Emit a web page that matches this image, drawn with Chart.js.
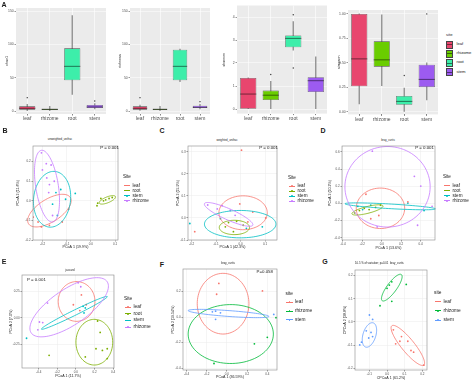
<!DOCTYPE html>
<html>
<head>
<meta charset="utf-8">
<script src="https://cdn.jsdelivr.net/npm/chart.js@4.4.1/dist/chart.umd.min.js"></script>
<style>
  body { margin: 0; background: #fff; }
  #page { position: relative; width: 474px; height: 382px; overflow: hidden; font-family: "Liberation Sans", Arial, sans-serif; color: #1a1a1a; }
  #page canvas { position: absolute; }
  .lbl { position: absolute; white-space: nowrap; line-height: 1; }
  .mid { transform: translate(-50%, -50%); }
  .lft { transform: translate(0, -50%); }
  .rgt { transform: translate(-100%, -50%); }
  .letter { font-weight: bold; font-size: 7px; }
  .ttl { font-size: 2.8px; }
  .pval { font-size: 4.4px; }
  .sw { position: absolute; }
</style>
</head>
<body>
<div id="page">
  <canvas id="chao" width="102" height="122" style="left:5px;top:0px"></canvas>
  <canvas id="richness" width="93" height="122" style="left:118px;top:0px"></canvas>
  <canvas id="shannon" width="106" height="122" style="left:222px;top:0px"></canvas>
  <canvas id="simpson" width="102" height="122" style="left:337px;top:0px"></canvas>
  <canvas id="pcoaB" width="106" height="107" style="left:16px;top:142px"></canvas>
  <canvas id="pcoaC" width="105" height="107" style="left:176px;top:142px"></canvas>
  <canvas id="pcoaD" width="111" height="108" style="left:328px;top:142px"></canvas>
  <canvas id="pcoaE" width="109" height="107" style="left:9px;top:271px"></canvas>
  <canvas id="pcoaF" width="110" height="114" style="left:171px;top:265px"></canvas>
  <canvas id="pcoaG" width="88" height="114" style="left:343px;top:266px"></canvas>

  <div class="lbl letter mid" style="left:4px;top:4px">A</div>
  <div class="lbl letter mid" style="left:5px;top:130px">B</div>
  <div class="lbl letter mid" style="left:162px;top:130px">C</div>
  <div class="lbl letter mid" style="left:323px;top:130px">D</div>
  <div class="lbl letter mid" style="left:4px;top:261px">E</div>
  <div class="lbl letter mid" style="left:162px;top:264px">F</div>
  <div class="lbl letter mid" style="left:325px;top:261px">G</div>

  <div class="lbl ttl mid" style="left:60px;top:139px">unweighted_unifrac</div>
  <div class="lbl ttl mid" style="left:227px;top:140px">weighted_unifrac</div>
  <div class="lbl ttl mid" style="left:388px;top:140px">bray_curtis</div>
  <div class="lbl ttl mid" style="left:70px;top:270px">jaccard</div>
  <div class="lbl ttl mid" style="left:228px;top:263px">bray_curtis</div>
  <div class="lbl ttl lft" style="left:355px;top:263px">10.5 % of variation; p=0.01</div>
  <div class="lbl ttl lft" style="left:390px;top:263px">bray_curtis</div>

  <div class="lbl pval rgt" style="left:119px;top:148px">P = 0.001</div>
  <div class="lbl pval rgt" style="left:278px;top:148px">P = 0.001</div>
  <div class="lbl pval rgt" style="left:434px;top:148px">P = 0.001</div>
  <div class="lbl pval lft" style="left:27px;top:280px">P = 0.001</div>
  <div class="lbl pval rgt" style="left:273px;top:272px">P=0.058</div>
</div>
<script>
// ---- panel A: alpha diversity boxplots ----
const sites = ["leaf", "rhizome", "root", "stem"];

const chaoLow = [0.5, 0, 25, 3];
const chaoQ1 = [2, 1.5, 46, 4.5];
const chaoMedian = [4, 2.5, 67, 6];
const chaoQ3 = [7, 3.5, 94, 9];
const chaoHigh = [10, 7, 143, 11];
const chaoOutliers = [[20], [], [], [15]];

const richLow = [1, 0.5, 44, 3];
const richQ1 = [2, 1.5, 46, 4.5];
const richMedian = [4, 2.5, 67, 5.5];
const richQ3 = [7, 3.5, 92, 8];
const richHigh = [9, 7, 93, 10];
const richOutliers = [[20], [], [], [14]];

const shannonLow = [0, 0, 2.56, 0];
const shannonQ1 = [0, 0.39, 2.68, 0.74];
const shannonMedian = [0.65, 0.6, 3.07, 1.23];
const shannonQ3 = [1.35, 0.8, 3.2, 1.38];
const shannonHigh = [1.35, 1.2, 3.8, 2.27];
const shannonOutliers = [[], [1.5], [4.1, 1.78], []];

const simpsonLow = [0.08, 0.265, 0, 0.12];
const simpsonQ1 = [0.26, 0.46, 0.07, 0.25];
const simpsonMedian = [0.54, 0.53, 0.105, 0.33];
const simpsonQ3 = [1, 0.72, 0.16, 0.48];
const simpsonHigh = [1, 0.99, 0.24, 0.5];
const simpsonOutliers = [[], [], [0.37], [1]];

const chaoTicks = [0, 50, 100, 150];
const shannonTicks = [0, 1, 2, 3, 4];
const simpsonTicks = [0, 0.25, 0.5, 0.75, 1];

// ---- panels B-G: PCoA points [x, y] and ellipses [cx, cy, ax, ay, bx, by] ----
const groups4 = ["leaf", "root", "stem", "rhizome"];
const groups3 = ["leaf", "rhizome", "stem"];

const bLeaf = [[-0.239, -0.083], [-0.219, -0.108], [-0.205, -0.133], [-0.172, -0.125], [-0.119, -0.108], [-0.092, -0.042]];
const bRoot = [[0.028, -0.012], [0.041, 0.012], [0.052, 0], [0.061, 0.005], [0.075, 0.012], [0.088, 0.017], [0.025, -0.025]];
const bStem = [[-0.145, 0.042], [-0.125, 0.058], [-0.105, 0.008], [-0.065, 0.038], [-0.159, -0.017], [-0.139, -0.075]];
const bRhizome = [[-0.205, 0.245], [-0.185, 0.19], [-0.201, 0.158], [-0.165, 0.183], [-0.183, 0.117], [-0.172, 0.083], [-0.152, 0.1], [-0.175, 0.042], [-0.159, -0.075]];
const bEllipses = [
  [-0.172, -0.05, 0.0867, 0.0667, 0.0245, -0.05],
  [0.068, 0.005, 0.0333, 0.0167, 0.0044, -0.0138],
  [-0.161, 0.008, 0.0133, 0.142, 0.076, -0.0117],
  [-0.182, 0.075, -0.0233, 0.183, 0.0463, 0.0092],
];

const cLeaf = [[0.004, 0.308], [-0.003, 0.064], [0.05, 0.027], [0.103, 0], [-0.187, -0.062], [0.03, -0.018]];
const cRoot = [[-0.062, -0.04], [-0.016, -0.015], [0.011, -0.033], [-0.029, -0.062], [-0.049, -0.021]];
const cStem = [[-0.207, -0.025], [0.024, -0.047], [0.089, -0.04], [-0.082, -0.003]];
const cRhizome = [[-0.075, 0.056], [-0.095, 0.041], [-0.042, 0.034], [-0.022, 0.012], [-0.134, 0.059]];
const cEllipses = [
  [0.0105, 0.0237, 0.0987, 0, 0, 0.077],
  [-0.025, -0.043, 0.0618, 0, 0, 0.0326],
  [-0.0013, -0.028, 0.146, 0, 0, 0.0622],
  [-0.0487, 0.0163, 0.0987, -0.0489, -0.0089, -0.023],
];

const dLeaf = [[-0.163, 0.107], [0.27, 0.019], [-0.03, -0.141], [-0.113, -0.179]];
const dRoot = [[-0.28, -0.11], [-0.23, -0.084], [-0.18, -0.057], [-0.13, -0.072], [-0.063, -0.046], [-0.013, -0.019]];
const dStem = [[-0.247, -0.034], [-0.113, -0.019], [0.27, 0.004], [0.437, -0.084], [-0.197, -0.072]];
const dRhizome = [[-0.097, 0.61], [0.337, 0.316], [0.403, 0.202], [0.37, -0.255], [-0.047, -0.274], [0.52, -0.034]];
const dEllipses = [
  [-0.013, -0.057, 0.25, 0, 0, 0.236],
  [-0.147, -0.076, 0.16, 0.046, 0.01, -0.038],
  [0.087, -0.034, 0.467, -0.03, 0, 0.027],
  [0.06, 0.194, 0.44, 0, 0, 0.47],
];

const eLeaf = [[0.059, 0.216], [0.111, 0.123], [0.042, 0.068], [-0.028, 0.123]];
const eRoot = [[0.233, -0.031], [0.261, -0.139], [0.216, -0.293], [0.285, -0.309], [0.337, -0.293], [0.101, -0.37], [0.337, -0.386], [-0.289, -0.355]];
const eStem = [[0.101, 0.093], [0.087, 0.046], [-0.532, -0.194], [0.077, 0.108]];
const eRhizome = [[-0.306, 0.139], [-0.393, -0.04], [-0.358, -0.046], [-0.41, -0.114], [0.052, 0.293], [0.024, 0.33]];
const eEllipses = [
  [0.007, 0.154, 0.198, 0, 0, 0.188],
  [0.198, -0.231, 0.198, 0, 0, 0.216],
  [-0.017, 0.046, 0.355, 0.154, 0.012, -0.022],
  [-0.073, 0.099, 0.41, 0.241, 0.104, -0.142],
];

const fLeaf = [[-0.08, 0.264], [-0.102, 0.179], [0.352, 0.205]];
const fRhizome = [[0.486, -0.005], [0.4, -0.159], [0.272, -0.21], [-0.128, -0.364]];
const fStem = [[-0.144, 0.041], [-0.112, 0.046], [-0.064, 0.033], [-0.112, -0.018], [0.464, 0.021]];
const fEllipses = [
  [-0.038, 0.105, 0.256, 0, 0, 0.238],
  [0.038, -0.133, 0.422, 0, 0, 0.231],
  [0.016, 0.028, 0.4, -0.023, 0, 0.023],
];

const gLeaf = [[0.036, -0.034], [0.082, -0.063], [0.073, -0.083], [0.049, -0.094], [0.118, -0.083], [0.136, -0.123], [0.151, -0.13], [0.209, -0.186]];
const gRhizome = [[0.027, 0.173], [0, 0.145], [0.013, 0.159], [0.109, 0.162], [-0.04, 0.07], [0.027, 0.089]];
const gStem = [[-0.1, 0.03], [-0.082, 0.011], [-0.118, -0.038], [-0.091, -0.045], [-0.082, -0.063], [-0.104, -0.069], [-0.145, -0.087], [-0.155, -0.099]];
const gEllipses = [
  [0.118, -0.101, 0.0909, -0.0845, 0.028, 0.018],
  [0.027, 0.148, 0.0545, 0.0563, 0.0218, -0.0127],
  [-0.1, -0.056, 0.0218, 0.0521, 0.0345, -0.0087],
];

const boxFill = ["#e8466e", "#6acd00", "#3deeaa", "#9c5bf0"];
const hue4 = ["#f8766d", "#7cae00", "#00bfc4", "#c77cff"];
const hue3 = ["#f8766d", "#00ba38", "#619cff"];

const FONT = '"Liberation Sans", Arial, sans-serif';
Chart.defaults.font.family = FONT;

// grey / white panel background and optional border
const panelBg = {
  id: "panelBg",
  beforeDraw(chart, args, opts) {
    const { ctx, chartArea: a } = chart;
    ctx.save();
    ctx.fillStyle = opts.fill;
    ctx.fillRect(a.left, a.top, a.width, a.height);
    ctx.restore();
  },
  afterDraw(chart, args, opts) {
    if (!opts.border) return;
    const { ctx, chartArea: a } = chart;
    ctx.save();
    ctx.strokeStyle = opts.border;
    ctx.lineWidth = 0.6;
    ctx.strokeRect(a.left, a.top, a.width, a.height);
    ctx.restore();
  },
};

// medians and outliers of the boxplots
const boxExtras = {
  id: "boxExtras",
  afterDatasetsDraw(chart, args, opts) {
    const ctx = chart.ctx;
    const y = chart.scales.y;
    chart.getDatasetMeta(0).data.forEach((bar, i) => {
      const half = bar.width / 2;
      const py = y.getPixelForValue(opts.median[i]);
      ctx.save();
      ctx.strokeStyle = "rgba(0,0,0,0.5)";
      ctx.lineWidth = 1;
      ctx.beginPath();
      ctx.moveTo(bar.x - half, py);
      ctx.lineTo(bar.x + half, py);
      ctx.stroke();
      ctx.fillStyle = "#333";
      opts.outliers[i].forEach((v) => {
        ctx.beginPath();
        ctx.arc(bar.x, y.getPixelForValue(v), 0.7, 0, Math.PI * 2);
        ctx.fill();
      });
      ctx.restore();
    });
  },
};

// confidence ellipses, drawn through the chart scales
const ellipses = {
  id: "ellipses",
  afterDatasetsDraw(chart, args, opts) {
    const { ctx, scales: { x, y } } = chart;
    opts.list.forEach((e, k) => {
      ctx.save();
      ctx.strokeStyle = opts.colors[k];
      ctx.lineWidth = 0.8;
      ctx.beginPath();
      for (let s = 0; s <= 90; s++) {
        const t = (s / 90) * Math.PI * 2;
        const px = x.getPixelForValue(e[0] + e[2] * Math.cos(t) + e[4] * Math.sin(t));
        const py = y.getPixelForValue(e[1] + e[3] * Math.cos(t) + e[5] * Math.sin(t));
        if (s === 0) ctx.moveTo(px, py);
        else ctx.lineTo(px, py);
      }
      ctx.closePath();
      ctx.stroke();
      ctx.restore();
    });
  },
};

function linearAxis(min, max, ticks, decimals, title, size, isY, gridColor, tickFont) {
  return {
    type: "linear",
    bounds: "data",
    min: min,
    max: max,
    afterBuildTicks: (s) => {
      s.ticks = ticks.map((v) => ({ value: v }));
    },
    afterFit: (s) => {
      if (isY) {
        s.width = size;
        s.paddingTop = 0;
        s.paddingBottom = 0;
      } else {
        s.height = size;
        s.paddingLeft = 0;
        s.paddingRight = 0;
      }
    },
    grid: { color: gridColor, lineWidth: 0.5, tickLength: 1.5, tickColor: "#333" },
    border: { display: false },
    ticks: {
      font: { size: tickFont },
      color: "#4d4d4d",
      padding: 0.8,
      autoSkip: false,
      maxRotation: 0,
      callback: (v) => Number(v).toFixed(decimals),
    },
    title: { display: true, text: title, font: { size: 3.6 }, color: "#1a1a1a", padding: 0 },
  };
}

function boxChart(id, yTitle, low, q1, median, q3, high, outliers, yMin, yMax, yTicks, decimals, yWidth, padTop, xHeight) {
  new Chart(document.getElementById(id), {
    type: "bar",
    data: {
      labels: sites,
      datasets: [
        {
          data: sites.map((s, i) => [q1[i], q3[i]]),
          backgroundColor: boxFill,
          borderColor: "#444",
          borderWidth: 0.6,
          borderSkipped: false,
          barPercentage: 0.72,
          categoryPercentage: 1,
          grouped: false,
        },
        {
          data: sites.map((s, i) => [low[i], high[i]]),
          backgroundColor: "#8f8f8f",
          barThickness: 0.7,
          grouped: false,
        },
      ],
    },
    options: {
      responsive: false,
      animation: false,
      events: [],
      layout: { padding: { top: padTop, right: 1, left: 0, bottom: 0 } },
      plugins: {
        legend: { display: false },
        tooltip: { enabled: false },
        panelBg: { fill: "#ebebeb" },
        boxExtras: { median: median, outliers: outliers },
      },
      scales: {
        x: {
          grid: { color: "#fff", lineWidth: 0.6, offset: false, tickLength: 1.5, tickColor: "#333" },
          border: { display: false },
          ticks: { font: { size: 5 }, color: "#4d4d4d", padding: 0.5, maxRotation: 0, autoSkip: false },
          afterFit: (s) => {
            s.height = xHeight;
            s.paddingLeft = 0;
            s.paddingRight = 0;
          },
        },
        y: linearAxis(yMin, yMax, yTicks, decimals, yTitle, yWidth, true, "#ffffff", 3.4),
      },
    },
    plugins: [panelBg, boxExtras],
  });
}

function pcoaChart(id, cfg) {
  new Chart(document.getElementById(id), {
    type: "scatter",
    data: {
      datasets: cfg.groups.map((g, i) => ({
        label: g,
        data: cfg.points[i].map((p) => ({ x: p[0], y: p[1] })),
        pointRadius: 0.9,
        pointBorderWidth: 0,
        pointBackgroundColor: cfg.colors[i],
      })),
    },
    options: {
      responsive: false,
      animation: false,
      events: [],
      layout: { padding: { top: 2, right: 1, left: 0, bottom: 0 } },
      plugins: {
        legend: { display: false },
        tooltip: { enabled: false },
        panelBg: { fill: "#ffffff", border: "#8a8a8a" },
        ellipses: { list: cfg.ellipses, colors: cfg.colors },
      },
      scales: {
        x: linearAxis(cfg.x[0], cfg.x[1], cfg.xTicks, cfg.xDec, cfg.xTitle, cfg.xHeight, false, "#ebebeb", 3),
        y: linearAxis(cfg.y[0], cfg.y[1], cfg.yTicks, cfg.yDec, cfg.yTitle, cfg.yWidth, true, "#ebebeb", 3),
      },
    },
    plugins: [panelBg, ellipses],
  });
}

boxChart("chao", "chao1", chaoLow, chaoQ1, chaoMedian, chaoQ3, chaoHigh, chaoOutliers, -4.5, 154.5, chaoTicks, 0, 11, 8, 8);
boxChart("richness", "richness", richLow, richQ1, richMedian, richQ3, richHigh, richOutliers, -4.5, 154.5, chaoTicks, 0, 12, 8, 8);
boxChart("shannon", "shannon", shannonLow, shannonQ1, shannonMedian, shannonQ3, shannonHigh, shannonOutliers, -0.2, 4.5, shannonTicks, 0, 15, 5.5, 8.4);
boxChart("simpson", "simpson", simpsonLow, simpsonQ1, simpsonMedian, simpsonQ3, simpsonHigh, simpsonOutliers, -0.028, 1.04, simpsonTicks, 2, 11, 10, 7.6);

pcoaChart("pcoaB", {
  groups: groups4, colors: hue4, points: [bLeaf, bRoot, bStem, bRhizome], ellipses: bEllipses,
  x: [-0.24, 0.112], y: [-0.2, 0.28], xTicks: [-0.2, -0.1, 0, 0.1], yTicks: [-0.2, -0.1, 0, 0.1, 0.2],
  xDec: 1, yDec: 1, xTitle: "PCoA 1 (19.9%)", yTitle: "PCoA 2 (11.6%)", yWidth: 17, xHeight: 9,
});
pcoaChart("pcoaC", {
  groups: groups4, colors: hue4, points: [cLeaf, cRoot, cStem, cRhizome], ellipses: cEllipses,
  x: [-0.2145, 0.149], y: [-0.1, 0.327], xTicks: [-0.2, -0.1, 0, 0.1], yTicks: [-0.1, 0, 0.1, 0.2, 0.3],
  xDec: 1, yDec: 1, xTitle: "PCoA 1 (42.3%)", yTitle: "PCoA 2 (15.9%)", yWidth: 12, xHeight: 9,
});
pcoaChart("pcoaD", {
  groups: groups4, colors: hue4, points: [dLeaf, dRoot, dStem, dRhizome], ellipses: dEllipses,
  x: [-0.41, 0.55], y: [-0.427, 0.67], xTicks: [-0.4, -0.2, 0, 0.2, 0.4], yTicks: [-0.4, -0.2, 0, 0.2, 0.4, 0.6],
  xDec: 1, yDec: 1, xTitle: "PCoA 1 (13.6%)", yTitle: "PCoA 2 (10.2%)", yWidth: 14, xHeight: 10,
});
pcoaChart("pcoaE", {
  groups: groups4, colors: hue4, points: [eLeaf, eRoot, eStem, eRhizome], ellipses: eEllipses,
  x: [-0.581, 0.41], y: [-0.475, 0.404], xTicks: [-0.4, -0.2, 0, 0.2, 0.4], yTicks: [-0.25, 0, 0.25],
  xDec: 1, yDec: 2, xTitle: "PCoA 1 (11.7%)", yTitle: "PCoA 2 (7.0%)", yWidth: 13, xHeight: 10,
});
pcoaChart("pcoaF", {
  groups: groups3, colors: hue3, points: [fLeaf, fRhizome, fStem], ellipses: fEllipses,
  x: [-0.435, 0.496], y: [-0.415, 0.377], xTicks: [-0.4, -0.2, 0, 0.2, 0.4], yTicks: [-0.4, -0.2, 0, 0.2],
  xDec: 1, yDec: 1, xTitle: "PCoA 1 (36.59%)", yTitle: "PCoA 2 (19.54%)", yWidth: 12, xHeight: 9,
});
pcoaChart("pcoaG", {
  groups: groups3, colors: hue3, points: [gLeaf, gRhizome, gStem], ellipses: gEllipses,
  x: [-0.182, 0.227], y: [-0.207, 0.224], xTicks: [-0.1, 0, 0.1, 0.2], yTicks: [-0.2, -0.1, 0, 0.1, 0.2],
  xDec: 1, yDec: 1, xTitle: "CPCoA 1 (61.2%)", yTitle: "CPCoA 2 (38.8%)", yWidth: 12, xHeight: 10,
});

// legends (html, next to each panel)
const page = document.getElementById("page");
function addLegend(x, y, title, names, colors, step, kind, fontSize) {
  const head = document.createElement("div");
  head.className = "lbl lft";
  head.style.cssText = `left:${x}px;top:${y}px;font-size:${fontSize}px`;
  head.textContent = title;
  page.appendChild(head);
  names.forEach((name, i) => {
    const cy = y + (kind === "box" ? 9 : 8.5) + i * step;
    if (kind === "box") {
      const box = document.createElement("div");
      box.className = "sw";
      box.style.cssText = `left:${x}px;top:${cy - 3.5}px;width:5.4px;height:6.4px;background:${colors[i]};border:0.5px solid #444;`;
      const med = document.createElement("div");
      med.className = "sw";
      med.style.cssText = `left:0;top:2.8px;width:5.4px;height:0.8px;background:rgba(0,0,0,0.5)`;
      box.appendChild(med);
      page.appendChild(box);
    } else {
      const line = document.createElement("div");
      line.className = "sw";
      line.style.cssText = `left:${x + 0.5}px;top:${cy - 0.35}px;width:6.5px;height:0.7px;background:${colors[i]}`;
      const dot = document.createElement("div");
      dot.className = "sw";
      dot.style.cssText = `left:${x + 3}px;top:${cy - 0.9}px;width:1.8px;height:1.8px;border-radius:50%;background:${colors[i]}`;
      page.appendChild(line);
      page.appendChild(dot);
    }
    const txt = document.createElement("div");
    txt.className = "lbl lft";
    txt.style.cssText = `left:${x + (kind === "box" ? 10.5 : 9.5)}px;top:${cy}px;font-size:${fontSize}px`;
    txt.textContent = name;
    page.appendChild(txt);
  });
}

addLegend(446, 35, "site", sites, boxFill, 9.2, "box", 4.2);
addLegend(123, 177, "Site", groups4, hue4, 5.1, "line", 4.6);
addLegend(288, 177.5, "Site", groups4, hue4, 5.1, "line", 4.6);
addLegend(443, 177, "Site", groups4, hue4, 5.1, "line", 4.6);
addLegend(124, 298.5, "Site", groups4, hue4, 6.7, "line", 4.8);
addLegend(285.5, 293.5, "site", groups3, hue3, 8.9, "line", 4.8);
addLegend(434, 293, "site", groups3, hue3, 9.2, "line", 4.8);
</script>
</body>
</html>
